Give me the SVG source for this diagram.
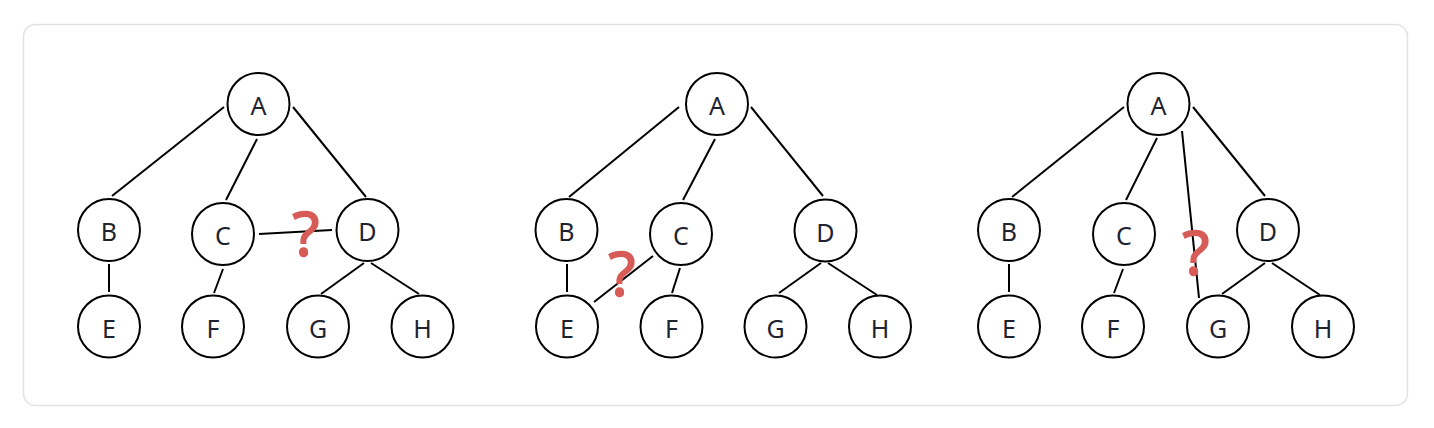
<svg xmlns="http://www.w3.org/2000/svg" width="1434" height="428" viewBox="0 0 1434 428">
<style>
.n circle{fill:#fff;stroke:#000;stroke-width:2}
.n text{font-family:"Noto Sans","Liberation Sans",sans-serif;font-size:25px;fill:#1f2330;text-anchor:middle}
.e line{stroke:#000;stroke-width:2;stroke-linecap:butt}
.q{font-family:"Noto Sans","Liberation Sans",sans-serif;font-size:62px;fill:#d75b57;stroke:#d75b57;stroke-width:1.6;text-anchor:middle}
</style>
<rect x="23.5" y="24.5" width="1384" height="381" rx="12" fill="#fff" stroke="#e2e2e6" stroke-width="1.5"/>
<g id="connectors" class="e">
<!-- tree 1 -->
<line x1="224" y1="107" x2="112" y2="196"/>
<line x1="257" y1="139" x2="226" y2="200"/>
<line x1="293" y1="107" x2="366" y2="197"/>
<line x1="109" y1="264" x2="109" y2="292"/>
<line x1="223" y1="269" x2="214" y2="293"/>
<line x1="364" y1="263" x2="321" y2="294"/>
<line x1="371" y1="263" x2="419" y2="294"/>
<line x1="259" y1="234" x2="332" y2="230"/>
<!-- tree 2 -->
<line x1="679" y1="107" x2="569" y2="197"/>
<line x1="715" y1="139" x2="683" y2="200"/>
<line x1="751" y1="107" x2="823" y2="196"/>
<line x1="567" y1="264" x2="567" y2="292"/>
<line x1="653" y1="256" x2="594" y2="302"/>
<line x1="680" y1="268" x2="672" y2="293"/>
<line x1="821" y1="263" x2="779" y2="293"/>
<line x1="828" y1="263" x2="877" y2="295"/>
<!-- tree 3 -->
<line x1="1124" y1="107" x2="1012" y2="197"/>
<line x1="1157" y1="138" x2="1126" y2="200"/>
<line x1="1182" y1="131" x2="1199" y2="298"/>
<line x1="1193" y1="107" x2="1265" y2="196"/>
<line x1="1009" y1="264" x2="1009" y2="292"/>
<line x1="1123" y1="269" x2="1114" y2="293"/>
<line x1="1265" y1="263" x2="1222" y2="294"/>
<line x1="1272" y1="263" x2="1320" y2="295"/>
</g>
<!-- tree 1 nodes -->
<g id="t1-A" class="n"><circle cx="258.5" cy="104" r="31"/><text x="258.5" y="115">A</text></g>
<g id="t1-B" class="n"><circle cx="109" cy="230" r="31"/><text x="109" y="241">B</text></g>
<g id="t1-C" class="n"><circle cx="223" cy="234" r="31"/><text x="223" y="245">C</text></g>
<g id="t1-D" class="n"><circle cx="367.5" cy="230" r="31"/><text x="367.5" y="241">D</text></g>
<g id="t1-E" class="n"><circle cx="109" cy="326.5" r="31"/><text x="109" y="337.5">E</text></g>
<g id="t1-F" class="n"><circle cx="213" cy="326.5" r="31"/><text x="213" y="337.5">F</text></g>
<g id="t1-G" class="n"><circle cx="318" cy="326.5" r="31"/><text x="318" y="337.5">G</text></g>
<g id="t1-H" class="n"><circle cx="422.5" cy="326.5" r="31"/><text x="422.5" y="337.5">H</text></g>
<!-- tree 2 nodes -->
<g id="t2-A" class="n"><circle cx="717" cy="104" r="31"/><text x="717" y="115">A</text></g>
<g id="t2-B" class="n"><circle cx="566.5" cy="230" r="31"/><text x="566.5" y="241">B</text></g>
<g id="t2-C" class="n"><circle cx="681" cy="234" r="31"/><text x="681" y="245">C</text></g>
<g id="t2-D" class="n"><circle cx="825.5" cy="230.5" r="31"/><text x="825.5" y="241.5">D</text></g>
<g id="t2-E" class="n"><circle cx="567" cy="326.5" r="31"/><text x="567" y="337.5">E</text></g>
<g id="t2-F" class="n"><circle cx="671.5" cy="326.5" r="31"/><text x="671.5" y="337.5">F</text></g>
<g id="t2-G" class="n"><circle cx="775.5" cy="326.5" r="31"/><text x="775.5" y="337.5">G</text></g>
<g id="t2-H" class="n"><circle cx="880" cy="326.5" r="31"/><text x="880" y="337.5">H</text></g>
<!-- tree 3 nodes -->
<g id="t3-A" class="n"><circle cx="1158.5" cy="104" r="31"/><text x="1158.5" y="115">A</text></g>
<g id="t3-B" class="n"><circle cx="1009" cy="230" r="31"/><text x="1009" y="241">B</text></g>
<g id="t3-C" class="n"><circle cx="1124" cy="234" r="31"/><text x="1124" y="245">C</text></g>
<g id="t3-D" class="n"><circle cx="1268" cy="230" r="31"/><text x="1268" y="241">D</text></g>
<g id="t3-E" class="n"><circle cx="1009" cy="326.5" r="31"/><text x="1009" y="337.5">E</text></g>
<g id="t3-F" class="n"><circle cx="1113" cy="326.5" r="31"/><text x="1113" y="337.5">F</text></g>
<g id="t3-G" class="n"><circle cx="1218" cy="326.5" r="31"/><text x="1218" y="337.5">G</text></g>
<g id="t3-H" class="n"><circle cx="1323" cy="326.5" r="31"/><text x="1323" y="337.5">H</text></g>
<g id="marks">
<text class="q" x="306" y="256">?</text>
<text class="q" x="622" y="296">?</text>
<text class="q" x="1196" y="275">?</text>
</g>
</svg>
